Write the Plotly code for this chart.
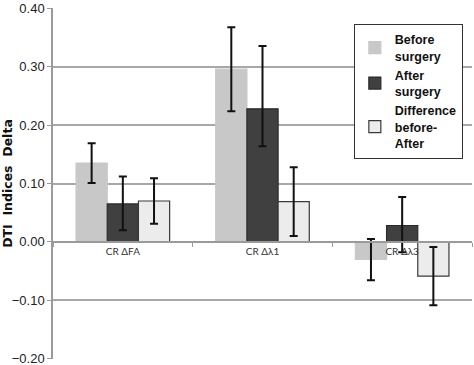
import plotly.graph_objects as go

categories = ["CR ΔFA", "CR Δλ1", "CR Δλ3"]
series_names = ["Before<br>surgery", "After<br>surgery", "Difference<br>before-<br>After"]

before = [0.135, 0.296, -0.030]
before_err_plus = [0.034, 0.072, 0.035]
before_err_minus = [0.034, 0.072, 0.036]

after = [0.065, 0.228, 0.028]
after_err_plus = [0.047, 0.108, 0.049]
after_err_minus = [0.045, 0.064, 0.046]

diff = [0.070, 0.069, -0.059]
diff_err_plus = [0.039, 0.059, 0.050]
diff_err_minus = [0.039, 0.059, 0.050]

y_ticks = [-0.2, -0.1, 0.0, 0.1, 0.2, 0.3, 0.4]

fill_colors = ["#c8c8c8", "#404040", "#ececec"]
line_colors = ["#c8c8c8", "#2a2a2a", "#3a3a3a"]

fig = go.Figure()
for name, vals, ep, em, fc, lc in zip(
    series_names,
    [before, after, diff],
    [before_err_plus, after_err_plus, diff_err_plus],
    [before_err_minus, after_err_minus, diff_err_minus],
    fill_colors, line_colors,
):
    fig.add_trace(go.Bar(
        x=categories, y=vals, name=name,
        marker=dict(color=fc, line=dict(color=lc, width=1.2)),
        error_y=dict(type="data", symmetric=False, array=ep, arrayminus=em,
                     color="#111111", thickness=2, width=4),
    ))

ymin, ymax = y_ticks[0] - 0.001, y_ticks[-1] + 0.001
zero_pos = (0 - ymin) / (ymax - ymin)

fig.update_layout(
    width=474, height=365,
    margin=dict(l=53, r=2, t=8, b=6),
    paper_bgcolor="white", plot_bgcolor="white",
    barmode="group", bargap=0.33, bargroupgap=0,
    showlegend=True,
    legend=dict(
        x=0.718, y=0.955, xanchor="left", yanchor="top",
        bgcolor="white", bordercolor="#333333", borderwidth=1,
        font=dict(family="Liberation Sans", size=12.5, color="#111111", weight="bold"),
        itemwidth=30, tracegroupgap=2,
    ),
    font=dict(family="Liberation Sans", color="#222222"),
    xaxis=dict(
        anchor="free", position=zero_pos, automargin=False,
        showgrid=False, showline=True, linecolor="#9a9a9a", linewidth=1.5,
        ticks="outside", tickson="boundaries", ticklen=4, tickcolor="#9a9a9a",
        tickfont=dict(family="Lato", size=10, color="#333333"),
        zeroline=False,
    ),
    yaxis=dict(
        range=[ymin, ymax], tickvals=y_ticks, tickformat=".2f", automargin=False,
        ticklabeloverflow="allow",
        showgrid=True, gridcolor="#a8a8a8", gridwidth=1.5,
        showline=True, linecolor="#9a9a9a", linewidth=1.5,
        ticks="outside", ticklen=4, tickcolor="#9a9a9a",
        tickfont=dict(family="Liberation Sans", size=13, color="#222222"),
        zeroline=False,
        title=dict(text="<b>DTI&nbsp; Indices&nbsp; Delta</b>", standoff=2,
                   font=dict(family="DejaVu Sans", size=12.5, color="#111111")),
    ),
)

fig.write_html("out.html", config={"displayModeBar": False},
               post_script="document.body.style.margin='0';document.body.style.overflow='hidden';")
